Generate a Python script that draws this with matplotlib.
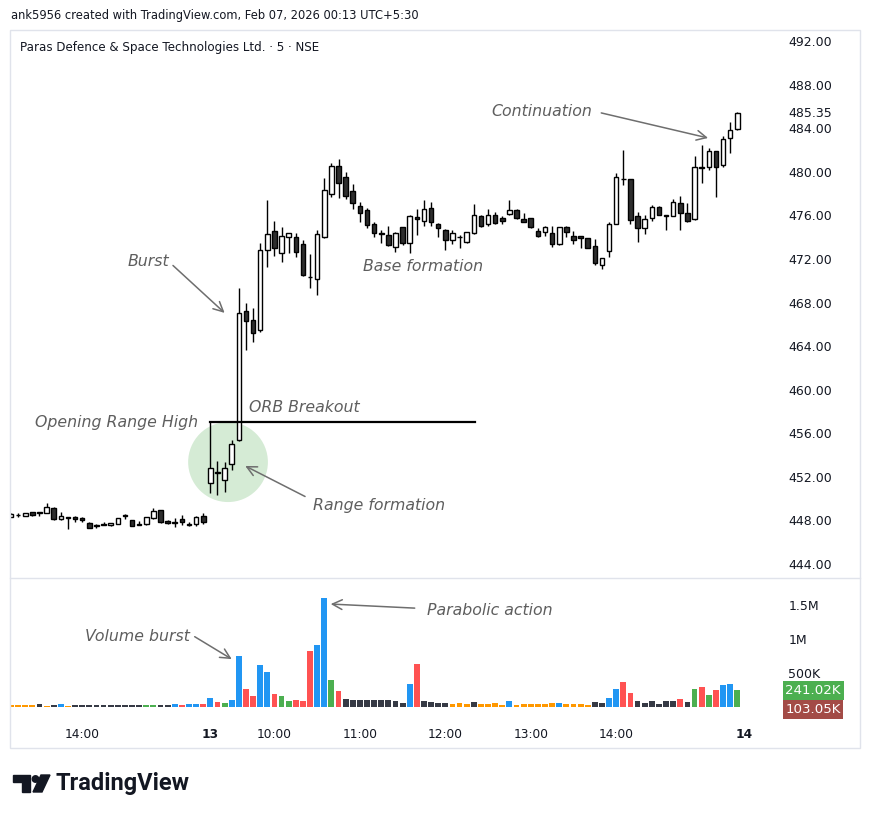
import numpy as np
import matplotlib.pyplot as plt
import matplotlib.transforms as mtransforms
from matplotlib.patches import Ellipse, Rectangle, Polygon
from matplotlib.lines import Line2D

# 5-minute candles: Feb 12 13:10-15:25 (28 bars), then Feb 13 09:15-15:25 (75 bars)
opens = [448.35, 448.5, 448.45, 448.75, 448.75, 448.7, 449.15, 448.1, 448.3, 448.35,
         448.2, 447.8, 447.5, 447.65, 447.55, 447.7, 448.5, 448.0, 447.6, 447.7,
         448.2, 448.95, 447.95, 447.8, 448.1, 447.6, 447.65, 448.45,
         451.4, 452.4, 451.7, 453.2, 455.4, 467.2, 466.4, 465.5, 472.8, 474.6,
         472.5, 474.0, 474.0, 473.4, 470.35, 470.2, 474.0, 478.0, 480.5, 479.5,
         478.2, 476.9, 476.5, 475.2, 474.35, 474.2, 473.1, 474.9, 473.5, 475.85,
         475.5, 476.65, 475.2, 474.7, 473.7, 474.0, 473.6, 474.35, 475.95, 475.2,
         476.0, 475.8, 476.1, 476.5, 475.65, 475.75, 474.55, 474.5, 474.35, 473.35,
         474.9, 474.1, 474.1, 473.9, 473.2, 471.45, 472.75, 475.25, 479.3, 479.3,
         475.95, 474.85, 475.75, 476.8, 475.97, 475.95, 477.15, 476.2, 475.65, 480.35,
         480.45, 481.9, 480.6, 483.1, 483.9]
highs = [448.65, 448.65, 448.7, 448.8, 448.8, 449.6, 449.2, 448.75, 448.35, 448.4,
         448.3, 447.85, 447.7, 447.9, 447.8, 448.25, 448.55, 448.05, 447.95, 448.35,
         449.15, 449.0, 448.0, 448.2, 448.5, 447.9, 448.4, 448.7,
         457.0, 453.5, 453.4, 455.4, 469.3, 468.0, 467.5, 473.5, 477.4, 475.5,
         474.9, 474.4, 474.4, 473.7, 472.45, 474.65, 479.4, 480.8, 481.2, 480.0,
         478.9, 477.2, 476.7, 475.4, 474.65, 475.0, 474.45, 474.95, 476.0, 476.6,
         477.4, 477.25, 475.3, 474.75, 474.65, 474.2, 474.5, 477.0, 476.0, 476.55,
         476.3, 475.95, 477.4, 476.55, 476.25, 475.8, 474.8, 475.0, 475.0, 474.95,
         475.0, 474.6, 474.15, 473.95, 473.8, 472.1, 475.4, 479.85, 482.0, 479.35,
         476.3, 476.0, 476.95, 476.85, 476.0, 477.5, 477.8, 477.15, 481.45, 482.45,
         482.15, 481.95, 483.3, 484.6, 485.5]
lows = [448.3, 448.35, 448.4, 448.45, 448.4, 448.65, 448.05, 448.05, 447.2, 447.9,
        447.85, 447.3, 447.3, 447.55, 447.5, 447.65, 448.1, 447.45, 447.55, 447.6,
        448.15, 447.8, 447.65, 447.4, 447.6, 447.45, 447.5, 447.7,
        450.5, 450.3, 450.6, 452.6, 455.3, 463.6, 464.4, 465.3, 471.3, 472.3,
        471.7, 472.5, 472.2, 470.4, 469.3, 468.7, 473.9, 477.7, 477.6, 477.5,
        476.6, 475.4, 474.8, 474.0, 473.5, 473.2, 472.6, 473.3, 472.5, 474.2,
        475.0, 475.0, 474.0, 472.8, 473.4, 473.0, 473.5, 474.3, 474.95, 475.0,
        475.2, 475.2, 476.0, 475.7, 475.35, 474.85, 474.0, 474.1, 473.1, 473.3,
        474.05, 473.4, 473.0, 473.0, 471.45, 471.1, 472.15, 475.2, 478.8, 475.2,
        473.6, 474.3, 475.5, 476.0, 474.65, 475.9, 474.65, 475.4, 475.6, 478.95,
        480.15, 477.65, 480.4, 481.7, 483.8]
closes = [448.6, 448.5, 448.65, 448.5, 448.7, 449.2, 448.1, 448.4, 448.25, 448.15,
          448.0, 447.35, 447.5, 447.6, 447.75, 448.2, 448.4, 447.5, 447.65, 448.3,
          448.9, 447.85, 447.75, 447.8, 447.85, 447.65, 448.35, 447.9,
          452.8, 452.4, 452.8, 455.0, 467.0, 466.3, 465.2, 472.8, 474.3, 473.0,
          474.1, 474.35, 472.6, 470.5, 470.3, 474.3, 478.3, 480.5, 479.0, 477.8,
          477.1, 476.2, 475.1, 474.4, 474.3, 473.3, 474.4, 473.5, 475.9, 475.7,
          476.55, 475.4, 474.8, 473.7, 474.35, 474.0, 474.45, 476.0, 475.0, 476.0,
          475.3, 475.5, 476.5, 475.75, 475.4, 474.9, 474.1, 474.9, 473.35, 474.9,
          474.45, 473.75, 473.95, 473.05, 471.6, 472.05, 475.2, 479.5, 479.3, 475.55,
          474.8, 475.65, 476.8, 476.05, 475.95, 477.25, 476.2, 475.5, 480.4, 480.4,
          481.9, 480.45, 483.0, 483.85, 485.35]

# volume in millions, with the indicator colour of each bar
volume_m = [0.025, 0.025, 0.025, 0.025, 0.04, 0.012, 0.025, 0.045, 0.012, 0.025,
            0.025, 0.025, 0.025, 0.025, 0.025, 0.025, 0.025, 0.025, 0.025, 0.025,
            0.025, 0.025, 0.025, 0.04, 0.03, 0.035, 0.045, 0.045,
            0.13, 0.07, 0.054, 0.098, 0.745, 0.26, 0.157, 0.613, 0.51, 0.187,
            0.157, 0.084, 0.098, 0.084, 0.82, 0.907, 1.6, 0.393, 0.23, 0.113,
            0.098, 0.098, 0.098, 0.098, 0.098, 0.098, 0.084, 0.054, 0.334, 0.628,
            0.084, 0.069, 0.054, 0.054, 0.04, 0.054, 0.04, 0.069, 0.04, 0.04,
            0.054, 0.025, 0.084, 0.025, 0.04, 0.04, 0.04, 0.04, 0.054, 0.054,
            0.04, 0.04, 0.04, 0.025, 0.069, 0.054, 0.127, 0.26, 0.363, 0.201,
            0.084, 0.054, 0.084, 0.04, 0.084, 0.084, 0.113, 0.069, 0.26, 0.29,
            0.172, 0.246, 0.319, 0.334, 0.241]
vol_codes = ("oooodod" "bo" "dddddddddd" "gg" "dd" "brbbr"
             "brgbbrrbbrggrrrbbgr" "ddddddddd" "br" "dddd" "ooo" "d" "oooo" "b"
             "oooooo" "b" "oooo" "dd" "bbrr" "dddddd" "rd" "grgrbbg")
vol_palette = {"o": "#ff9800", "d": "#363a45", "b": "#2196f3", "r": "#ff5252", "g": "#4caf50"}

price_ticks = [444, 448, 452, 456, 460, 464, 468, 472, 476, 480, 484, 488, 492]
vol_ticks = [0.5, 1.0, 1.5]
vol_tick_labels = ["500K", "1M", "1.5M"]
time_labels = [("14:00", 10, "normal"), ("13", 28, "bold"), ("10:00", 37, "normal"),
               ("11:00", 49, "normal"), ("12:00", 61, "normal"), ("13:00", 73, "normal"),
               ("14:00", 85, "normal"), ("14", 103, "bold")]
orb_high = 457.0
last_volume_label = "241.02K"
avg_volume_label = "103.05K"

W, H = 872, 818


def rect(x0, y0, x1, y1):
    return [x0 / W, 1 - y1 / H, (x1 - x0) / W, (y1 - y0) / H]


fig = plt.figure(figsize=(W / 100, H / 100), dpi=100)
fig.patch.set_facecolor("white")
ax = fig.add_axes(rect(10, 30, 775, 578))
axv = fig.add_axes(rect(10, 578, 775, 748))

x = np.arange(len(opens))
o = np.array(opens); h = np.array(highs); l = np.array(lows); c = np.array(closes)
up = c >= o

# candles
ax.vlines(x, l, h, color="black", lw=1, zorder=3)
body_low = np.minimum(o, c)
body_h = np.maximum(np.abs(c - o), 0.04)
ax.bar(x[up], body_h[up], bottom=body_low[up], width=0.64, color="white",
       edgecolor="black", linewidth=1, zorder=4)
ax.bar(x[~up], body_h[~up], bottom=body_low[~up], width=0.64, color="#2e2e2e",
       edgecolor="black", linewidth=1, zorder=4)

ax.set_xlim(-0.14, 107.3)
ax.set_ylim(442.72, 493.01)
axv.set_xlim(-0.14, 107.3)
axv.set_ylim(-0.607, 1.893)

# volume
axv.bar(x, volume_m, width=0.82, color=[vol_palette[k] for k in vol_codes], zorder=2)

for a in (ax, axv):
    for s in a.spines.values():
        s.set_visible(False)
    a.set_xticks([])
    a.yaxis.tick_right()
    a.tick_params(axis="y", length=0, pad=9.5, labelsize=9, labelcolor="#131722")

ax.set_yticks(price_ticks)
ax.set_yticklabels([f"{p:.2f}" for p in price_ticks])
axv.set_yticks(vol_ticks)
axv.set_yticklabels(vol_tick_labels)

ax.annotate(f"{closes[-1]:.2f}", xy=(1, closes[-1]), xycoords=("axes fraction", "data"),
            xytext=(9.5, 0), textcoords="offset points", va="center", ha="left",
            fontsize=9, color="#131722")
axv.annotate(last_volume_label, xy=(1, volume_m[-1]), xycoords=("axes fraction", "data"),
             xytext=(7.5, 0), textcoords="offset points", va="center", ha="left",
             fontsize=9.6, color="white",
             bbox=dict(boxstyle="square,pad=0.2", fc="#4caf50", ec="none"))
axv.annotate(avg_volume_label, xy=(1, volume_m[-1]), xycoords=("axes fraction", "data"),
             xytext=(7.5, -13.8), textcoords="offset points", va="center", ha="left",
             fontsize=9.6, color="white",
             bbox=dict(boxstyle="square,pad=0.2", fc="#a34b46", ec="none"))

# time axis labels
tt = mtransforms.blended_transform_factory(axv.transData, fig.transFigure)
for lab, idx, wt in time_labels:
    axv.text(idx, 1 - 734 / H, lab, transform=tt, ha="center", va="center",
             fontsize=8.8, color="#131722", fontweight=wt, clip_on=False)

# annotations
note = dict(fontsize=11.3, style="italic", color="#5e5e5e")
arrow = dict(arrowstyle="->,head_length=0.7,head_width=0.35", color="#6e6e6e",
             lw=1.1, shrinkA=0, shrinkB=0)

ax.add_patch(Ellipse((30.48, 453.36), 11.2, 7.34, facecolor="#d5ebd5",
                     edgecolor="none", zorder=1))
ax.plot([27.95, 65.2], [orb_high, orb_high], color="black", lw=1.6, zorder=5)

ax.text(3.37, 457.03, "Opening Range High", va="center", ha="left", **note)
ax.text(33.4, 458.35, "ORB Breakout", va="center", ha="left", **note)
ax.text(16.4, 471.8, "Burst", va="center", ha="left", **note)
ax.annotate("", xy=(30.0, 467.05), xytext=(22.75, 471.4), arrowprops=arrow)
ax.text(49.4, 471.35, "Base formation", va="center", ha="left", **note)
ax.text(67.4, 485.5, "Continuation", va="center", ha="left", **note)
ax.annotate("", xy=(97.9, 483.1), xytext=(82.9, 485.4), arrowprops=arrow)
ax.text(42.4, 449.4, "Range formation", va="center", ha="left", **note)
ax.annotate("", xy=(32.9, 453.0), xytext=(41.3, 450.2), arrowprops=arrow)

axv.text(10.4, 1.04, "Volume burst", va="center", ha="left", **note)
axv.annotate("", xy=(31.0, 0.70), xytext=(25.8, 1.03), arrowprops=arrow)
axv.text(58.4, 1.42, "Parabolic action", va="center", ha="left", **note)
axv.annotate("", xy=(44.9, 1.51), xytext=(56.7, 1.45), arrowprops=arrow)

# frame, header, title
fr = fig.transFigure
fig.patches.append(Rectangle((10 / W, 1 - 748 / H), 850 / W, 718 / H, transform=fr,
                             fill=False, edgecolor="#e0e3eb", lw=1))
fig.lines.append(Line2D([10 / W, 860 / W], [1 - 578 / H] * 2, transform=fr,
                        color="#e0e3eb", lw=1))
fig.text(11 / W, 1 - 16 / H, "ank5956 created with TradingView.com, Feb 07, 2026 00:13 UTC+5:30",
         va="center", ha="left", fontsize=8.3, color="#131722")
fig.text(20 / W, 1 - 47 / H, "Paras Defence & Space Technologies Ltd. · 5 · NSE",
         va="center", ha="left", fontsize=8.6, color="#131722")

# TradingView logo
def px(pts):
    return [(px_ / W, 1 - py_ / H) for px_, py_ in pts]

fig.patches.append(Polygon(px([(13, 775), (30, 775), (30, 792), (22, 792), (22, 782), (13, 782)]),
                           closed=True, transform=fr, color="#131722"))
fig.patches.append(Ellipse((35.5 / W, 1 - 779 / H), 6.5 / W, 6.5 / H, transform=fr, color="#131722"))
fig.patches.append(Polygon(px([(41, 775), (50, 775), (42, 792), (33, 792)]),
                           closed=True, transform=fr, color="#131722"))
fig.text(55 / W, 1 - 783.5 / H, "TradingView", va="center", ha="left", fontsize=17,
         fontweight="bold", family="Roboto", color="#131722")

fig.savefig("out.png", dpi=100, facecolor="white")
